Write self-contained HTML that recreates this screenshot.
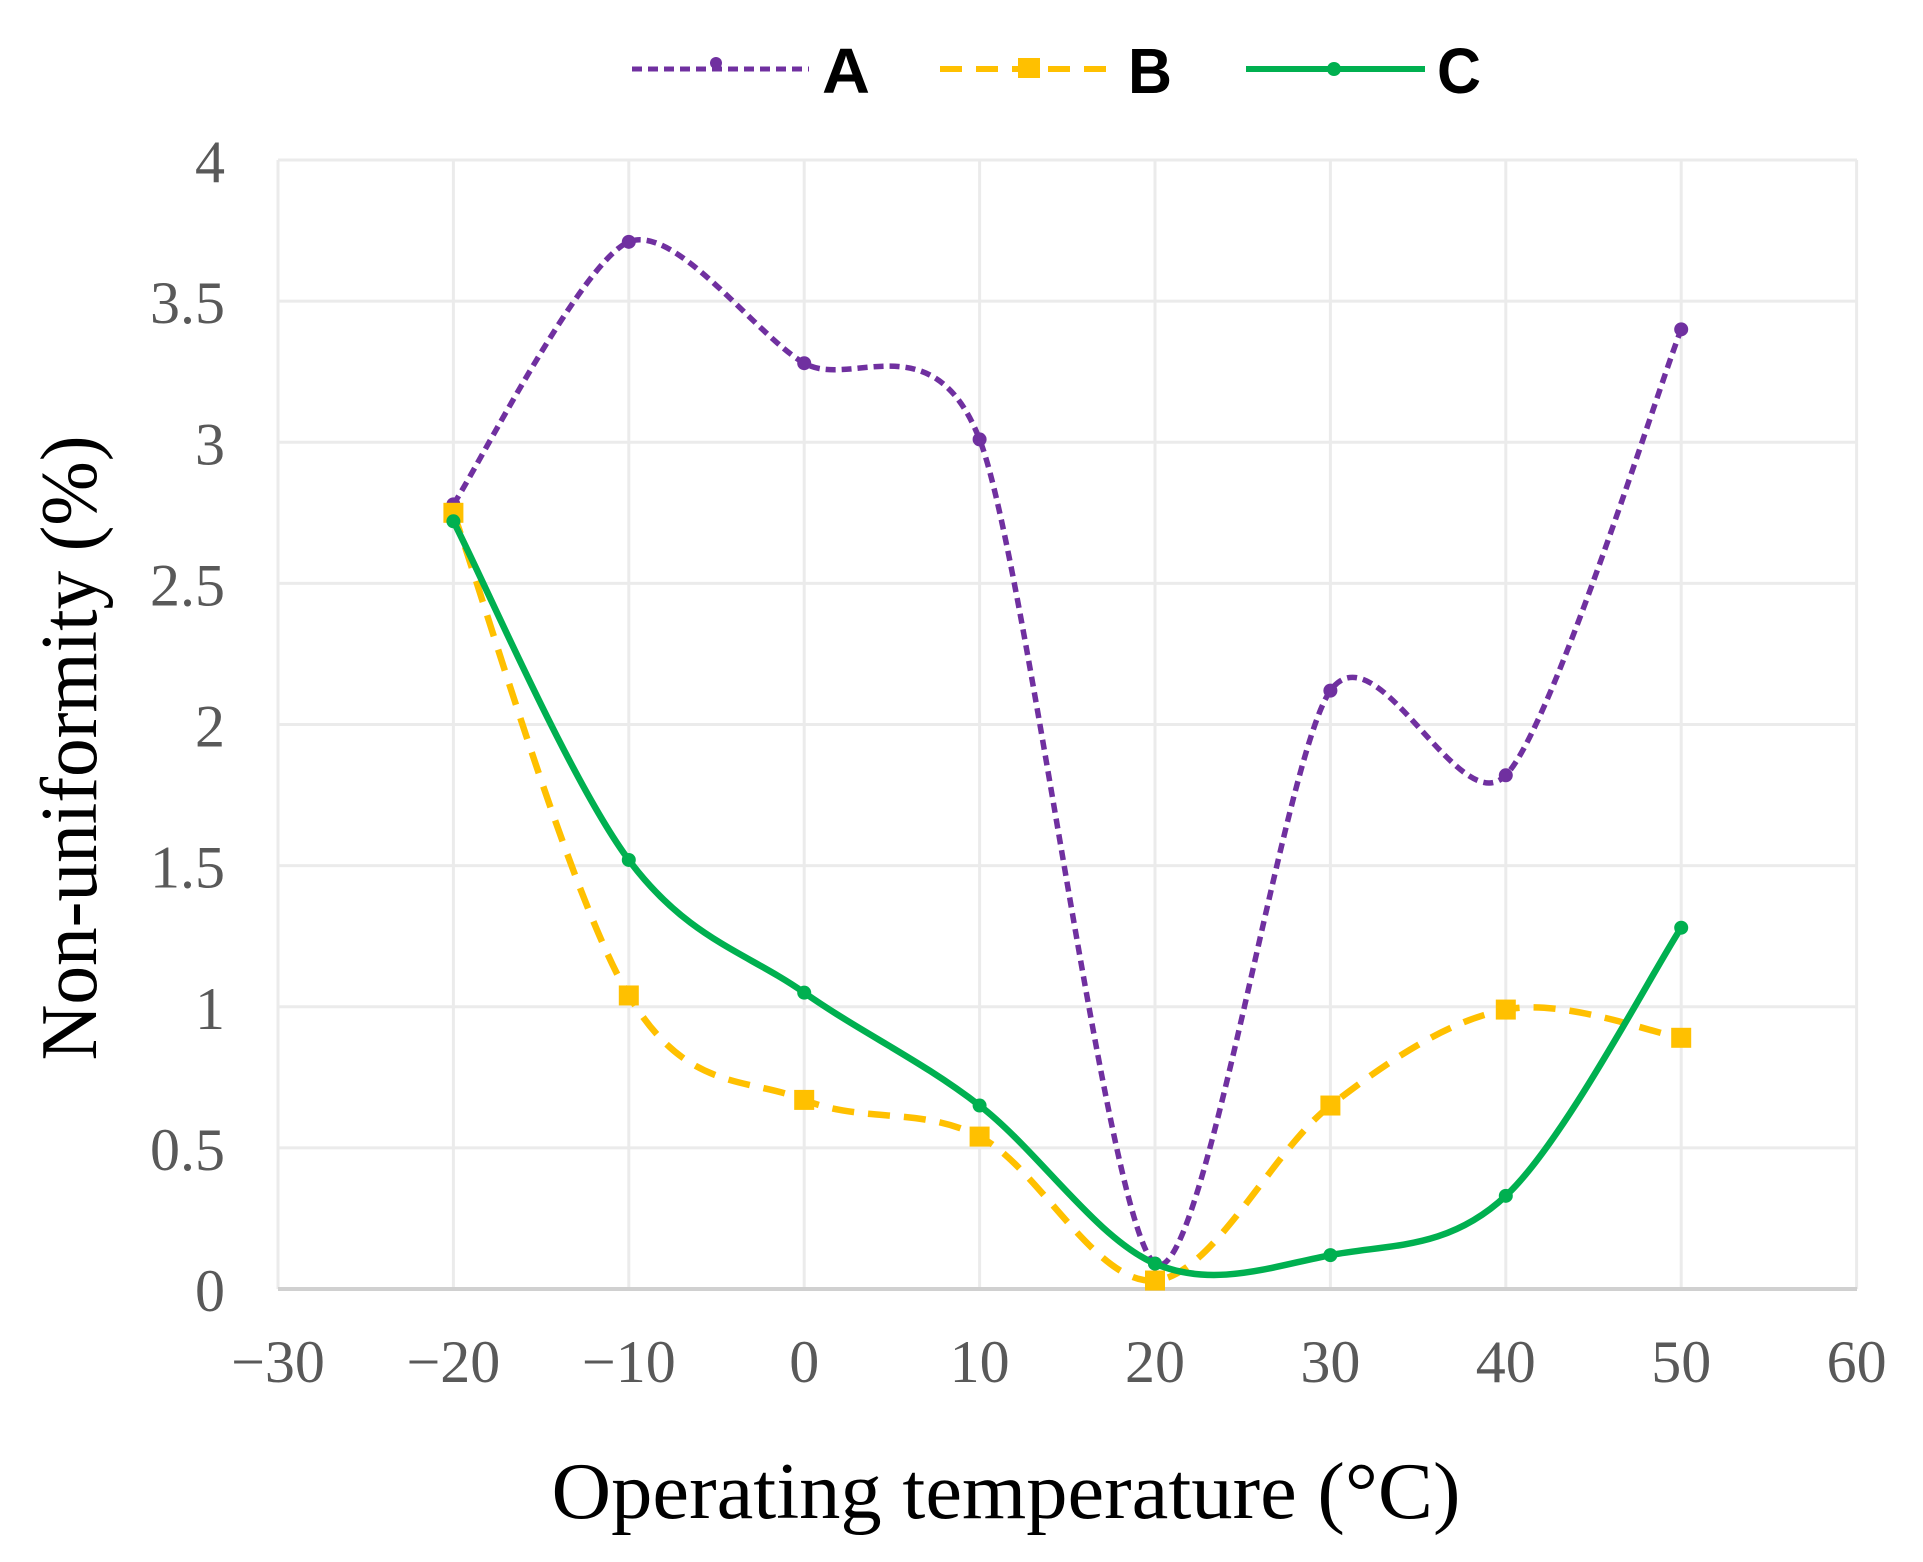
<!DOCTYPE html>
<html><head><meta charset="utf-8"><style>
html,body{margin:0;padding:0;background:#fff;}
svg{display:block;}
</style></head><body>
<svg id="s" width="1923" height="1562" viewBox="0 0 1923 1562" xmlns="http://www.w3.org/2000/svg">
<rect width="1923" height="1562" fill="#fff"/>
<g id="grid" stroke="#ebebeb" stroke-width="3"></g>
<line x1="278" y1="1289" x2="1857" y2="1289" stroke="#d0d0d0" stroke-width="4"/>
<g id="labels" font-family="Liberation Serif, serif" font-size="60" fill="#595959"></g>
<g id="series"></g>
<text x="1006" y="1518" font-family="Liberation Serif, serif" font-size="80" fill="#000" text-anchor="middle" textLength="909" lengthAdjust="spacingAndGlyphs">Operating temperature (°C)</text>
<text transform="translate(96,748) rotate(-90)" x="0" y="0" font-family="Liberation Serif, serif" font-size="80" fill="#000" text-anchor="middle" textLength="625" lengthAdjust="spacingAndGlyphs">Non-uniformity (%)</text>
<g font-family="Liberation Sans, sans-serif" font-weight="bold" font-size="64" fill="#000">
<line x1="632" y1="69" x2="809" y2="69" stroke="#7030a0" stroke-width="5" stroke-dasharray="10,6"/>
<circle cx="716" cy="63" r="6" fill="#7030a0"/>
<text x="822" y="93" textLength="48" lengthAdjust="spacingAndGlyphs">A</text>
<line x1="940" y1="69" x2="1108" y2="69" stroke="#ffc000" stroke-width="6" stroke-dasharray="22,14"/>
<rect x="1018" y="58" width="22" height="20" fill="#ffc000"/>
<text x="1128" y="93" textLength="44" lengthAdjust="spacingAndGlyphs">B</text>
<line x1="1246" y1="69" x2="1425" y2="69" stroke="#00b050" stroke-width="6"/>
<circle cx="1334" cy="69" r="7" fill="#00b050"/>
<text x="1437" y="93" textLength="44" lengthAdjust="spacingAndGlyphs">C</text>
</g>
</svg>
<script>
var NS="http://www.w3.org/2000/svg";
function X(v){return 278+(v+30)*17.54;}
function Y(v){return 1289-v*282.25;}
function el(t,a,p){var e=document.createElementNS(NS,t);for(var k in a)e.setAttribute(k,a[k]);p.appendChild(e);return e;}
var g=document.getElementById('grid'),lb=document.getElementById('labels');
for(var i=0;i<=9;i++){var v=-30+i*10;el('line',{x1:X(v),y1:160,x2:X(v),y2:1289},g);
 var t=el('text',{x:X(v),y:1382,'text-anchor':'middle'},lb);t.textContent=(v<0?'\u2212'+(-v):v);}
for(var j=1;j<=8;j++){var y=j*0.5;el('line',{x1:278,y1:Y(y),x2:1857,y2:Y(y)},g);}
for(var j=0;j<=8;j++){var y=j*0.5;var t=el('text',{x:225,y:Y(y)+22,'text-anchor':'end'},lb);t.textContent=String(y);}
var xs=[-20,-10,0,10,20,30,40,50];
var S=[
 {d:[2.78,3.71,3.28,3.01,0.09,2.12,1.82,3.40],c:'#7030a0',w:5.5,da:'10,6',m:'c',f:7.5},
 {d:[2.75,1.04,0.67,0.54,0.03,0.65,0.99,0.89],c:'#ffc000',w:6.5,da:'22,14',m:'s',f:6},
 {d:[2.72,1.52,1.05,0.65,0.09,0.12,0.33,1.28],c:'#00b050',w:6.5,da:'',m:'c',f:6}];
var sg=document.getElementById('series');
S.forEach(function(s){
 var P=xs.map(function(x,i){return [X(x),Y(s.d[i])];});
 var d='M'+P[0][0]+','+P[0][1],f=s.f;
 for(var i=0;i<P.length-1;i++){
  var p0=P[i-1]||P[i],p1=P[i],p2=P[i+1],p3=P[i+2]||P[i+1];
  var c1=[p1[0]+(p2[0]-p0[0])/f,p1[1]+(p2[1]-p0[1])/f],c2=[p2[0]-(p3[0]-p1[0])/f,p2[1]-(p3[1]-p1[1])/f];
  d+=' C'+c1+' '+c2+' '+p2;}
 var a={d:d,fill:'none',stroke:s.c,'stroke-width':s.w};if(s.da)a['stroke-dasharray']=s.da;
 el('path',a,sg);
 P.forEach(function(p){ if(s.m=='s')el('rect',{x:p[0]-10,y:p[1]-10,width:20,height:20,fill:s.c},sg);
  else el('circle',{cx:p[0],cy:p[1],r:7,fill:s.c},sg);});
});
</script>
</body></html>
